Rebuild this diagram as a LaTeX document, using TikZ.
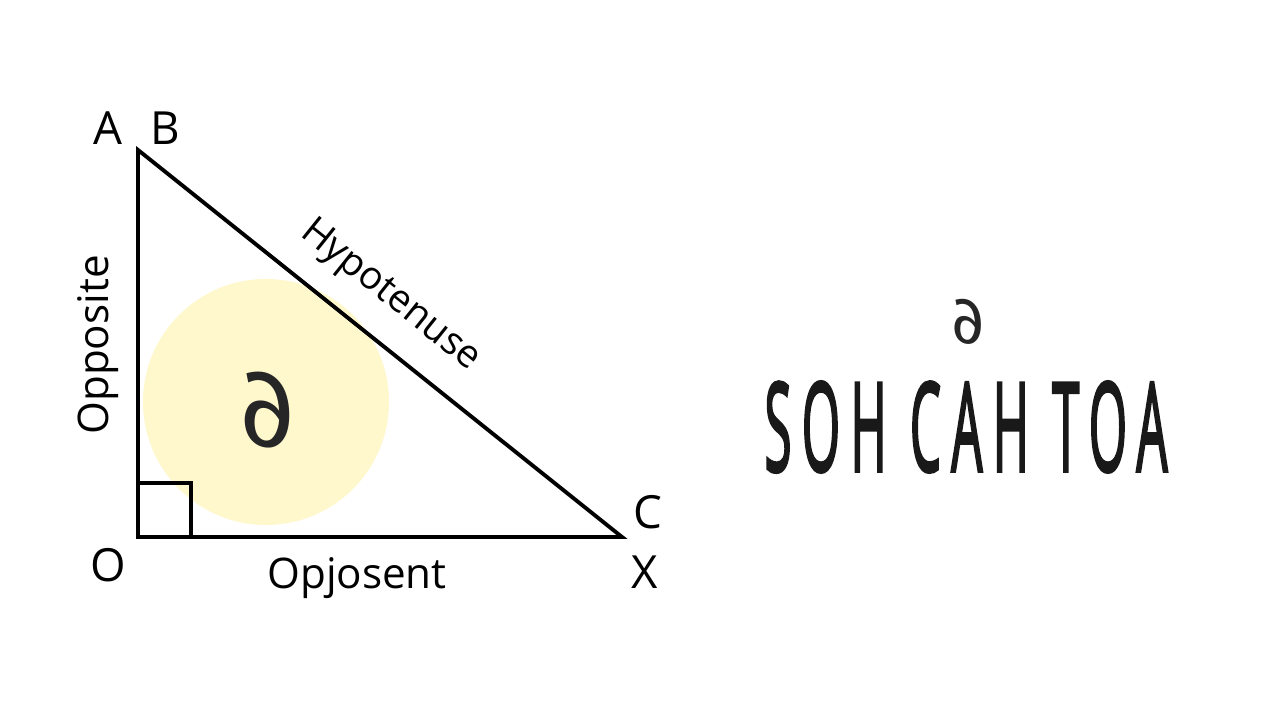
\documentclass[tikz,border=0pt]{standalone}
\usepackage{fontspec}
\setmainfont{Open Sans}
\newfontfamily\symfont{DejaVu Sans}
\newfontfamily\mnemofont[LetterSpace=21,FakeBold=3]{Open Sans}
\usetikzlibrary{positioning}
\definecolor{softyellow}{RGB}{255,248,204}
\tikzset{
    vlabel/.style = {inner sep=0pt, font=\fontsize{13}{15}\selectfont, text=black},
    sidelabel/.style = {inner sep=0pt, font=\fontsize{12}{14}\selectfont, text=black},
    thetanode/.style = {inner sep=0pt, font=\symfont\fontsize{32}{34}\selectfont, text=black!85, xslant=-0.2},
    mnemonic/.style = {inner sep=0pt, font=\mnemofont\fontsize{35}{40}\selectfont, text=black!90, xscale=0.4},
    edgen/.style = {-,line width=1.1pt,black},
    anglebox/.style = {line width=1.1pt,black},
    glow/.style = {fill=softyellow, draw=none}
}
\begin{document}
\begin{tikzpicture}
\useasboundingbox[fill=white] (0,0) rectangle (12.8,7.2);
%
\coordinate (top) at (1.38,5.70);
\coordinate (o) at (1.38,1.83);
\coordinate (x) at (6.22,1.83);
%
\fill[glow] (2.66,3.18) circle (1.23);
\node[thetanode] at (2.66,3.10) (theta) {∂};
%
\draw[edgen] (top) -- (x) -- (o) -- cycle;
\draw[anglebox] (1.38,2.37) -| (1.91,1.83);
%
\node[vlabel] at (1.08,5.92) (la) {A};
\node[vlabel] at (1.65,5.92) (lb) {B};
\node[vlabel] at (1.08,1.55) (lo) {O};
\node[vlabel] at (6.48,2.08) (lc) {C};
\node[vlabel] at (6.45,1.48) (lx) {X};
%
\node[sidelabel,rotate=90] at (0.98,3.75) (opp) {Opposite};
\node[sidelabel] at (3.57,1.42) (adj) {Opjosent};
\node[sidelabel,font=\fontsize{11}{13}\selectfont,rotate=-38.65] at (3.90,4.24) (hyp) {Hypotenuse};
%
\node[thetanode,font=\symfont\fontsize{19}{21}\selectfont] at (9.67,3.98) (thetab) {∂};
\node[mnemonic] at (9.66,2.93) (soh) {SOH CAH TOA};
\end{tikzpicture}
\end{document}
